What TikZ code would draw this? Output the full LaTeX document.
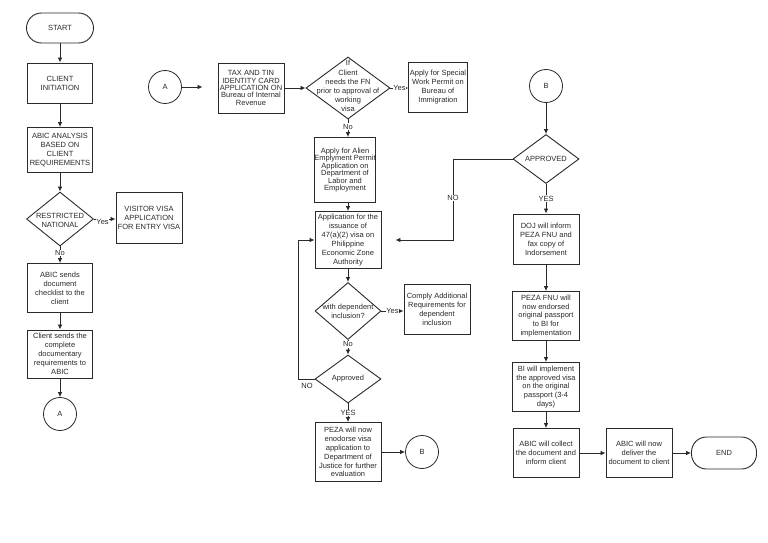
\documentclass[tikz,border=0pt]{standalone}
\usepackage{fontspec}
\setmainfont{Liberation Sans}
\usetikzlibrary{shapes.geometric,arrows.meta,calc}
\definecolor{ink}{HTML}{2A2A2A}
\begin{document}
\begin{tikzpicture}[x=1pt,y=-1pt,
  every node/.style={font=\fontsize{7.5}{8.9}\selectfont, text=ink},
  tight/.style={font=\fontsize{7.5}{7.4}\selectfont},
  box/.style={draw=ink, line width=0.9pt, rectangle, align=center, inner sep=1pt},
  term/.style={box, rounded corners=15pt},
  circ/.style={draw=ink, line width=0.8pt, circle, minimum size=33pt, inner sep=0pt},
  dia/.style={draw=ink, line width=0.9pt, diamond, inner sep=0pt},
  dtext/.style={align=center, inner sep=0pt},
  lab/.style={inner sep=0.6pt, fill=white},
  arr/.style={draw=ink, line width=0.8pt, -{Latex[length=5pt,width=4.5pt]}},
  ln/.style={draw=ink, line width=0.8pt}]
\useasboundingbox (0,0) rectangle (768,543);
\fill[white] (0,0) rectangle (768,543);

% ---------- left column ----------
\node[term, minimum width=67pt, minimum height=30pt] (start) at (60,28) {START};
\node[box, minimum width=65pt, minimum height=40pt] (init) at (60,83) {CLIENT\\INITIATION};
\node[box, minimum width=65pt, minimum height=45pt] (anal) at (60,150) {ABIC ANALYSIS\\BASED ON\\CLIENT\\REQUIREMENTS};
\node[dia, minimum width=67pt, minimum height=54pt] (rn) at (60,219) {};
\node[dtext] (rnt) at (60,220) {RESTRICTED\\NATIONAL};
\node[box, minimum width=66pt, minimum height=51pt] (visit) at (149,218) {VISITOR VISA\\APPLICATION\\FOR ENTRY VISA};
\node[box, minimum width=65pt, minimum height=49pt] (send) at (60,288) {ABIC sends\\document\\checklist to the\\client};
\node[box, minimum width=65pt, minimum height=48pt] (csend) at (60,354) {Client sends the\\complete\\documentary\\requirements to\\ABIC};
\node[circ] (ca1) at (60,414) {A};

\draw[arr] (start) -- (init);
\draw[arr] (init) -- (anal);
\draw[arr] (anal) -- (rn);
\draw[arr] (rn.east) -- node[lab, pos=0.4, yshift=-3pt] (lyes1) {Yes} (rn.east -| visit.west);
\draw[arr] (rn) -- node[lab, pos=0.4] (lno1) {No} (send);
\draw[arr] (send) -- (csend);
\draw[arr] (csend) -- (ca1);

% ---------- middle column ----------
\node[circ] (ca2) at (165,87) {A};
\node[box, tight, minimum width=66pt, minimum height=50pt] (tax) at (251,88) {TAX AND TIN\\IDENTITY CARD\\APPLICATION ON\\Bureau of Internal\\Revenue};
\node[dia, minimum width=84pt, minimum height=62pt] (q1) at (348,88) {};
\node[dtext, font=\fontsize{7.5}{9.1}\selectfont] (q1t) at (348,86) {If\\Client\\needs the FN\\prior to approval of\\working\\visa};
\node[box, minimum width=57pt, minimum height=50pt] (special) at (438,87) {Apply for Special\\Work Permit on\\Bureau of\\Immigration};
\node[box, tight, minimum width=57pt, minimum height=65pt, inner sep=0pt] (alien) at (345,170) {Apply for Alien\\Emplyment Permit\\Application on\\Department of\\Labor and\\Employment};
\node[box, minimum width=66pt, minimum height=57pt] (app) at (348,240) {Application for the\\issuance of\\47(a)(2) visa on\\Philippine\\Economic Zone\\Authority};
\node[dia, minimum width=66pt, minimum height=57pt] (dep) at (348,311) {};
\node[dtext] (dept) at (dep) {with dependent\\inclusion?};
\node[box, minimum width=66pt, minimum height=50pt] (comply) at (437,309) {Comply Additional\\Requirements for\\dependent\\inclusion};
\node[dia, minimum width=66pt, minimum height=48pt] (appr) at (348,379) {};
\node[dtext] (apprt) at (appr) {Approved};
\node[box, minimum width=66pt, minimum height=59pt] (peza) at (348,452) {PEZA will now\\enodorse visa\\application to\\Department of\\Justice for further\\evaluation};
\node[circ] (cb1) at (422,452) {B};

\draw[arr, shorten >=15pt] (ca2.east) -- (ca2.east -| tax.west);
\draw[arr] (tax.east) -- (tax.east -| q1.west);
\draw[arr] (q1.east) -- node[lab] (lyes2) {Yes} (q1.east -| special.west);
\draw[arr] (q1.south) -- node[lab, pos=0.4] (lno2) {No} (q1.south |- alien.north);
\draw[arr] (alien.south -| app.north) -- (app.north);
\draw[arr] (app) -- (dep);
\draw[arr] (dep.east) -- node[lab] (lyes3) {Yes} (dep.east -| comply.west);
\draw[arr] (dep) -- node[lab, pos=0.3] (lno3) {No} (appr);
\draw[arr] (appr) -- node[lab] (lyes4) {YES} (peza);
\coordinate (loopc) at (298,379);
\draw[arr] (appr.west) -- (loopc) |- (app.west);
\node[inner sep=0pt] (lno4) at (307,386) {NO};
\draw[arr] (peza.east) -- (peza.east -| cb1.west);

% ---------- right column ----------
\node[circ] (cb2) at (546,86) {B};
\node[dia, minimum width=66pt, minimum height=49pt] (appr2) at (546,159) {};
\node[dtext] (appr2t) at (appr2) {APPROVED};
\node[box, minimum width=66pt, minimum height=50pt] (doj) at (546,239) {DOJ will inform\\PEZA FNU and\\fax copy of\\Indorsement};
\node[box, minimum width=67pt, minimum height=49pt] (fnu) at (546,316) {PEZA FNU will\\now endorsed\\original passport\\to BI for\\implementation};
\node[box, minimum width=67pt, minimum height=49pt] (bi) at (546,387) {BI will implement\\the approved visa\\on the original\\passport (3-4\\days)};
\node[box, minimum width=66pt, minimum height=49pt] (coll) at (546,453) {ABIC will collect\\the document and\\inform client};
\node[box, minimum width=66pt, minimum height=49pt] (deliv) at (639,453) {ABIC will now\\deliver the\\document to client};
\node[term, minimum width=65pt, minimum height=32pt] (end) at (724,453) {END};

\draw[arr] (cb2) -- (appr2);
\coordinate (noc) at (453,159);
\draw[arr, shorten >=14pt] (appr2.west) -- (noc) |- (app.east);
\node[lab] (lno5) at (453,198) {NO};
\draw[arr] (appr2) -- node[lab] (lyes5) {YES} (doj);
\draw[arr] (doj) -- (fnu);
\draw[arr] (fnu) -- (bi);
\draw[arr] (bi) -- (coll);
\draw[arr] (coll) -- (deliv);
\draw[arr] (deliv) -- (end);
\end{tikzpicture}
\end{document}
